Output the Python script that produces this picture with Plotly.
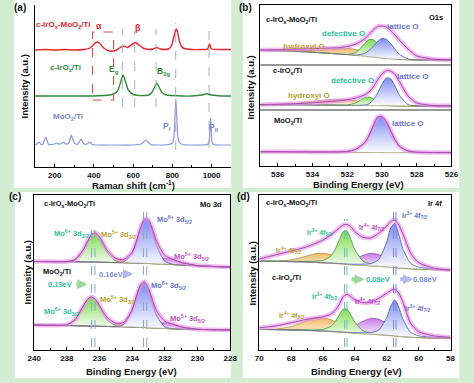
import plotly.graph_objects as go

W, H = 474, 383
FONT = "Liberation Sans, Arial, Helvetica, sans-serif"

# ---------------- (a) Raman spectra ----------------
raman_red_x = [100, 150, 200, 250, 300, 350, 380, 400, 415, 430, 450, 480, 510, 530, 550, 570, 590, 610, 630, 650,
               680, 700, 720, 740, 760, 780, 795, 805, 815, 820, 825, 835, 845, 860, 900, 950, 980, 985, 990, 995,
               1000, 1050, 1100]
raman_red_y = [117, 117.5, 117, 117.5, 117, 117.5, 119, 123, 125, 123.5, 119, 116, 116.5, 119, 121, 119.5, 122, 124.5,
               122, 119, 117.5, 118, 119.5, 118, 117.5, 118, 121, 128, 136, 138, 136, 127, 121, 118.5, 117.5, 117.5,
               118, 121, 123, 120, 118, 117.5, 117.5]
raman_green_x = [100, 200, 300, 400, 450, 480, 500, 520, 535, 548, 560, 575, 600, 630, 660, 680, 695, 710, 720, 730,
                 745, 770, 800, 850, 900, 950, 975, 1000, 1050, 1100]
raman_green_y = [71, 71, 71, 71, 71.5, 72, 73, 76, 84, 92, 86, 77, 72.5, 71.5, 71.5, 72, 74.5, 80, 83.7, 81,
                 75, 72, 71.5, 71, 71, 72, 73.3, 72, 71, 71]
raman_blue_x = [100, 110, 120, 130, 140, 150, 155, 160, 170, 185, 200, 210, 220, 235, 245, 255, 270, 280, 285, 290,
                300, 315, 325, 335, 345, 360, 370, 378, 390, 420, 500, 600, 640, 655, 665, 675, 690, 740, 780, 800,
                808, 813, 818, 823, 828, 835, 850, 900, 950, 980, 988, 992, 995, 998, 1002, 1010, 1050, 1100]
raman_blue_y = [22, 23, 25, 22.5, 23, 28, 30, 27, 22.5, 22.5, 23, 24, 23, 23.5, 25, 23, 23.5, 29, 32, 29,
                24, 22.5, 25, 28, 24, 22.5, 24, 25, 22.5, 22, 22, 22, 23, 25.5, 27, 25, 22.5, 22, 22.5, 24,
                30, 48, 68.7, 48, 30, 25, 22.5, 22, 22, 22.5, 26, 40, 48.7, 40, 25, 22.5, 22, 22]
raman_guides_x = [545, 608, 717, 817, 987]
raman_guides_y0 = [60, 60, 60, 17, 19]
raman_guides_y1 = [138, 136, 138, 144, 144]
alpha_box = [393, 500, 67, 135]

# ---------------- (b) O1s ----------------
b_x = [537, 536, 535, 534, 533.5, 533, 532.5, 532, 531.5, 531, 530.75, 530.5, 530.25, 530, 529.75, 529.5,
       529.25, 529, 528.5, 528, 527, 526]
b1_base = [115.5, 115.2, 114.6, 113.8, 113.2, 112.6, 112.0, 111.4, 110.6, 109.8, 109.3, 108.8, 108.3, 107.8, 107.4,
           107.0, 106.7, 106.5, 106.2, 106.1, 106.0, 106.0]
b1_env = [116, 116.3, 116.8, 117.3, 117.7, 118, 118.3, 119.5, 122, 127, 131.5, 136, 139.5, 140, 139, 135.5, 131,
          126, 117, 110, 106.8, 106.2]
b1_hydroxyl = [115.5, 115.4, 115.4, 115.6, 116.1, 116.8, 117.3, 117.4, 116.6, 114.8, 113.6, 112.4, 111.3, 110.2,
               109.3, 108.5, 107.8, 107.3, 106.6, 106.2, 106.0, 106.0]
b1_defective = [115.5, 115.2, 114.6, 113.8, 113.2, 112.6, 112.0, 111.6, 113.5, 122.2, 126.4, 126.4, 121.9, 115.7,
                110.9, 108.2, 107.0, 106.5, 106.2, 106.1, 106.0, 106.0]
b1_lattice = [115.5, 115.2, 114.6, 113.8, 113.2, 112.6, 112.0, 111.4, 110.9, 112.5, 115.4, 119.8, 124.6, 127.5,
              126.7, 122.4, 116.7, 111.7, 107.0, 106.15, 106.0, 106.0]
b2_base = [61.2, 61.2, 61.1, 61.0, 61.0, 60.9, 60.8, 60.7, 60.6, 60.5, 60.4, 60.4, 60.3, 60.3, 60.2, 60.1, 60.1,
           60.0, 60.0, 60.0, 60.0, 60.0]
b2_env = [61.5, 61.8, 62.3, 63.2, 63.8, 64.5, 65.2, 66.2, 68.0, 71.0, 74.0, 79.0, 86.0, 92.0, 95.3, 95.0, 91.5,
          84.5, 70.0, 63.0, 60.4, 60.2]
b2_hydroxyl = [61.2, 61.5, 62.4, 64.3, 65.4, 66.3, 66.7, 66.3, 65.2, 63.8, 63.1, 62.4, 61.8, 61.3, 60.9, 60.6,
               60.4, 60.2, 60.1, 60.0, 60.0, 60.0]
b2_defective = [61.2, 61.2, 61.1, 61.0, 61.0, 60.9, 60.8, 60.95, 63.2, 68.3, 68.9, 67.3, 64.4, 62.1, 60.8, 60.2,
                60.1, 60.0, 60.0, 60.0, 60.0, 60.0]
b2_lattice = [61.2, 61.2, 61.1, 61.0, 61.0, 60.9, 60.8, 60.7, 60.6, 61.0, 62.2, 65.9, 72.9, 81.9, 88.0, 87.2,
              79.9, 70.9, 61.4, 60.05, 60.0, 60.0]
b3_base = [14.0, 14.0, 13.9, 13.8, 13.8, 13.7, 13.7, 13.6, 13.6, 13.5, 13.5, 13.4, 13.4, 13.4, 13.4, 13.3, 13.3,
           13.3, 13.3, 13.3, 13.3, 13.3]
b3_lattice = [14.0, 14.0, 13.9, 13.8, 13.8, 13.8, 13.9, 14.3, 16.5, 23.0, 30.0, 40.0, 48.5, 49.0, 44.0, 35.0,
              26.0, 19.5, 14.8, 13.6, 13.3, 13.3]
b3_env = [14.3, 14.3, 14.2, 14.1, 14.1, 14.1, 14.2, 14.6, 16.8, 23.3, 30.5, 40.5, 49.0, 49.5, 44.5, 35.5, 26.5,
          20.0, 15.2, 13.9, 13.6, 13.5]
b_separators = [101, 56]

# ---------------- (c) Mo 3d ----------------
c_x = [240, 239, 238, 237.5, 237, 236.75, 236.5, 236.25, 236, 235.75, 235.5, 235, 234.5, 234, 233.75, 233.5,
       233.25, 233, 232.75, 232.5, 232, 231.5, 231, 230, 229, 228]
c1_base = [88.5, 88.4, 88.3, 88.2, 88.1, 88.0, 88.0, 87.9, 87.8, 87.7, 87.6, 87.4, 87.2, 87.0, 86.9, 86.8, 86.6,
           86.5, 86.3, 86.1, 85.8, 85.4, 85.0, 84.2, 83.5, 83.0]
c1_mo6_32 = [88.5, 88.4, 88.5, 90.4, 100.1, 108.0, 114.7, 116.5, 112.2, 104.5, 96.8, 89.0, 87.3, 87.0, 86.9, 86.8,
             86.6, 86.5, 86.3, 86.1, 85.8, 85.4, 85.0, 84.2, 83.5, 83.0]
c1_mo5_32 = [88.5, 88.4, 88.3, 88.2, 88.2, 88.2, 88.4, 88.6, 88.9, 89.3, 89.8, 90.1, 89.4, 88.1, 87.6, 87.2, 86.8,
             86.6, 86.3, 86.1, 85.8, 85.4, 85.0, 84.2, 83.5, 83.0]
c1_mo6_52 = [88.5, 88.4, 88.3, 88.2, 88.1, 88.0, 88.0, 87.9, 87.8, 87.7, 87.6, 87.4, 88.2, 96.8, 107.7, 120.9,
             129.7, 128.5, 117.8, 104.4, 88.6, 85.6, 85.0, 84.2, 83.5, 83.0]
c1_mo5_52 = [88.5, 88.4, 88.3, 88.2, 88.1, 88.0, 88.0, 87.9, 87.8, 87.7, 87.6, 87.4, 87.2, 87.1, 87.1, 87.2, 87.5,
             88.2, 89.2, 90.2, 91.7, 90.5, 87.6, 84.4, 83.5, 83.0]
c1_env = [88.5, 88.4, 88.5, 90.4, 100.2, 108.2, 115.1, 117.2, 113.3, 106.1, 99.0, 91.5, 90.5, 97.9, 108.6, 121.7,
          130.8, 130.2, 120.7, 108.5, 94.5, 90.7, 87.6, 84.4, 83.5, 83.0]
c2_base = [25.0, 24.7, 24.4, 24.3, 24.1, 24.0, 23.9, 23.8, 23.7, 23.6, 23.5, 23.3, 23.1, 22.9, 22.8, 22.6, 22.4,
           22.2, 22.0, 21.8, 21.5, 21.2, 21.0, 20.6, 20.3, 20.0]
c2_mo6_32 = [25.0, 24.7, 25.3, 30.5, 43.7, 50.1, 52.7, 49.9, 43.3, 35.7, 29.7, 24.2, 23.2, 22.9, 22.8, 22.6, 22.4,
             22.2, 22.0, 21.8, 21.5, 21.2, 21.0, 20.6, 20.3, 20.0]
c2_mo5_32 = [25.0, 24.7, 24.4, 24.3, 24.25, 24.3, 24.4, 24.7, 25.0, 25.4, 25.7, 25.8, 25.0, 23.9, 23.4, 22.9, 22.55,
             22.3, 22.0, 21.8, 21.5, 21.2, 21.0, 20.6, 20.3, 20.0]
c2_mo6_52 = [25.0, 24.7, 24.4, 24.3, 24.1, 24.0, 23.9, 23.8, 23.7, 23.6, 23.5, 23.3, 25.6, 39.7, 52.7, 63.9, 67.0,
             59.6, 46.5, 34.3, 23.0, 21.3, 21.0, 20.6, 20.3, 20.0]
c2_mo5_52 = [25.0, 24.7, 24.4, 24.3, 24.1, 24.0, 23.9, 23.8, 23.7, 23.6, 23.5, 23.3, 23.1, 23.0, 23.1, 23.2, 23.6,
             24.3, 25.2, 26.3, 27.3, 25.7, 23.1, 20.7, 20.3, 20.0]
c2_env = [25.0, 24.7, 25.3, 30.5, 43.9, 50.4, 53.2, 50.8, 44.6, 37.5, 31.9, 26.7, 27.6, 40.8, 53.6, 64.8, 68.4, 61.7,
          49.7, 38.8, 28.8, 25.8, 23.1, 20.7, 20.3, 20.0]
c_guides_x = [236.48, 236.28, 233.31, 233.11]
c_guides_y1 = [128, 128, 139, 139]

# ---------------- (d) Ir 4f ----------------
d_x = [70, 69, 68, 67.5, 67, 66.5, 66, 65.5, 65.25, 65, 64.75, 64.5, 64.25, 64, 63.5, 63, 62.5, 62, 61.75, 61.5,
       61.25, 61, 60.5, 60, 59, 58]
d1_base = [88.8, 88.6, 88.3, 88.1, 87.8, 87.5, 87.1, 86.7, 86.4, 86.1, 85.8, 85.4, 85.1, 84.8, 84.4, 84.0, 83.6,
           83.1, 82.8, 82.4, 82.0, 81.7, 81.2, 80.8, 80.3, 80.0]
d1_ir4_52 = [88.8, 88.8, 90.1, 91.9, 94.1, 96.2, 96.7, 95.4, 94.0, 92.4, 90.8, 89.2, 87.8, 86.6, 85.1, 84.2, 83.6,
             83.1, 82.8, 82.4, 82.0, 81.7, 81.2, 80.8, 80.3, 80.0]
d1_ir3_52 = [89.0, 88.9, 88.7, 88.7, 88.7, 88.8, 89.6, 94.1, 100.2, 109.4, 118.2, 118.9, 110.4, 100.3, 89.0, 85.9,
             84.7, 83.9, 83.5, 83.0, 82.5, 82.15, 81.6, 81.1, 80.5, 80.15]
d1_ir4_72 = [88.8, 88.6, 88.3, 88.1, 87.8, 87.5, 87.1, 86.9, 86.8, 86.95, 87.3, 88.0, 89.3, 90.9, 94.6, 96.7, 95.2,
             90.9, 88.5, 86.2, 84.4, 83.1, 81.6, 80.9, 80.3, 80.0]
d1_ir3_72 = [88.9, 88.75, 88.45, 88.3, 88.0, 87.75, 87.4, 87.05, 86.8, 86.55, 86.3, 86.0, 85.8, 85.7, 85.8, 86.4,
             90.4, 108.4, 122.2, 126.8, 116.0, 101.7, 86.5, 82.9, 81.1, 80.4]
d1_env = [91.0, 95.0, 99.0, 101.0, 103.3, 106.5, 110.0, 115.0, 118.5, 121.7, 125.0, 125.5, 123.3, 118.3, 112.7,
          112.0, 116.7, 124.0, 128.5, 130.0, 125.0, 116.7, 96.7, 87.3, 81.7, 80.0]
d2_base = [20.5, 20.3, 20.0, 19.8, 19.5, 19.2, 18.8, 18.4, 18.1, 17.8, 17.5, 17.2, 16.9, 16.6, 16.1, 15.7, 15.2,
           14.7, 14.4, 14.0, 13.6, 13.3, 12.8, 12.4, 12.0, 11.7]
d2_ir4_52 = [20.5, 20.9, 23.4, 26.2, 29.4, 31.8, 32.2, 30.1, 28.3, 26.3, 24.2, 22.3, 20.6, 19.1, 17.1, 16.05, 15.3,
             14.7, 14.4, 14.0, 13.6, 13.3, 12.8, 12.4, 12.0, 11.7]
d2_ir3_52 = [20.6, 20.5, 20.3, 20.2, 20.1, 20.2, 20.6, 23.7, 27.9, 34.4, 40.6, 41.1, 34.9, 27.6, 19.3, 17.1, 16.0,
             15.2, 14.9, 14.4, 14.0, 13.6, 13.05, 12.6, 12.15, 11.8]
d2_ir4_72 = [20.5, 20.3, 20.0, 19.8, 19.5, 19.2, 18.9, 18.8, 18.9, 19.2, 19.9, 21.0, 22.6, 24.5, 28.8, 31.6, 30.7,
             26.5, 23.7, 21.0, 18.5, 16.5, 14.0, 12.7, 12.0, 11.7]
d2_ir3_72 = [20.6, 20.4, 20.15, 19.95, 19.65, 19.4, 19.0, 18.7, 18.45, 18.2, 17.95, 17.7, 17.5, 17.3, 17.2, 17.5,
             20.0, 32.7, 43.9, 50.0, 43.1, 31.3, 17.6, 14.2, 12.7, 12.1]
d2_env = [22.3, 24.0, 27.3, 29.0, 30.7, 32.0, 33.3, 36.0, 39.5, 45.0, 53.0, 55.8, 53.3, 50.0, 47.3, 47.7, 51.7,
          56.7, 59.5, 60.7, 57.0, 48.3, 26.7, 18.3, 14.0, 12.7]
d_guides_x = [64.65, 64.5, 61.58, 61.42]
d_guides_y1 = [131, 131, 139, 139]

# ---------------- colours ----------------
C_YEL, E_YEL = "#f0b865", "#b0903a"
C_GRN, E_GRN = "#7ddc50", "#3d9a3d"
C_BLU, E_BLU = "#7d8cf0", "#4a55a8"
C_PUR, E_PUR = "#c67ae6", "#9a4cb0"
T_TEAL, T_OLIVE, T_BLUE, T_MAG = "#2fbf98", "#bca030", "#6a74cc", "#c04ec4"


def px(x):
    return x / W


def py(y):
    return 1 - y / H


fig = go.Figure()


def add_line(x, y, color, width, xa, ya, smooth=0.6):
    fig.add_trace(go.Scatter(x=x, y=y, mode="lines",
                             line=dict(color=color, width=width, shape="spline", smoothing=smooth),
                             xaxis=xa, yaxis=ya, showlegend=False, hoverinfo="skip"))


def add_component(x, base, y, fill, edge, xa, ya):
    fig.add_trace(go.Scatter(x=x, y=base, mode="lines",
                             line=dict(width=0, shape="spline", smoothing=0.6),
                             xaxis=xa, yaxis=ya, showlegend=False, hoverinfo="skip"))
    fig.add_trace(go.Scatter(x=x, y=y, mode="lines",
                             line=dict(color=edge, width=0.8, shape="spline", smoothing=0.6),
                             fill="tonexty",
                             fillgradient=dict(type="vertical",
                                               colorscale=[[0, "rgba(255,255,255,0.95)"], [1, fill]]),
                             xaxis=xa, yaxis=ya, showlegend=False, hoverinfo="skip"))


def add_envelope(x, y, xa, ya):
    add_line(x, y, "rgba(236,140,236,0.6)", 4.5, xa, ya)
    add_line(x, y, "#a04aa8", 1.0, xa, ya)


# ---- (a)
add_line(raman_red_x, raman_red_y, "#e8242c", 1.4, "x", "y", 0.5)
add_line(raman_green_x, raman_green_y, "#2e8b3a", 1.4, "x", "y", 0.5)
add_line(raman_blue_x, raman_blue_y, "#8e95dc", 1.2, "x", "y", 0.5)

# ---- (b)
for base, comps, env in [
    (b1_base, [(b1_hydroxyl, C_YEL, E_YEL), (b1_defective, C_GRN, E_GRN), (b1_lattice, C_BLU, E_BLU)], b1_env),
    (b2_base, [(b2_hydroxyl, C_YEL, E_YEL), (b2_defective, C_GRN, E_GRN), (b2_lattice, C_BLU, E_BLU)], b2_env),
    (b3_base, [(b3_lattice, C_BLU, E_BLU)], b3_env),
]:
    for comp, fc, ec in comps:
        add_component(b_x, base, comp, fc, ec, "x2", "y2")
    add_line(b_x, base, "#8c8a5a", 0.7, "x2", "y2")
    add_envelope(b_x, env, "x2", "y2")

# ---- (c)
for base, comps, env in [
    (c1_base, [(c1_mo5_32, C_YEL, E_YEL), (c1_mo6_32, C_GRN, E_GRN), (c1_mo5_52, C_PUR, E_PUR),
               (c1_mo6_52, C_BLU, E_BLU)], c1_env),
    (c2_base, [(c2_mo5_32, C_YEL, E_YEL), (c2_mo6_32, C_GRN, E_GRN), (c2_mo5_52, C_PUR, E_PUR),
               (c2_mo6_52, C_BLU, E_BLU)], c2_env),
]:
    for comp, fc, ec in comps:
        add_component(c_x, base, comp, fc, ec, "x3", "y3")
    add_line(c_x, base, "#8c8a5a", 0.7, "x3", "y3")
    add_envelope(c_x, env, "x3", "y3")

# ---- (d)
for base, comps, env in [
    (d1_base, [(d1_ir4_52, C_YEL, E_YEL), (d1_ir4_72, C_PUR, E_PUR), (d1_ir3_52, C_GRN, E_GRN),
               (d1_ir3_72, C_BLU, E_BLU)], d1_env),
    (d2_base, [(d2_ir4_52, C_YEL, E_YEL), (d2_ir4_72, C_PUR, E_PUR), (d2_ir3_52, C_GRN, E_GRN),
               (d2_ir3_72, C_BLU, E_BLU)], d2_env),
]:
    for comp, fc, ec in comps:
        add_component(d_x, base, comp, fc, ec, "x4", "y4")
    add_line(d_x, base, "#8c8a5a", 0.7, "x4", "y4")
    add_envelope(d_x, env, "x4", "y4")


# ---------------- axes ----------------
def xcfg(x0, x1, y_anchor, rng, dtick, mdtick, tick0, mirror):
    return dict(domain=[px(x0), px(x1)], range=rng, anchor=y_anchor, showline=True, linecolor="black",
                linewidth=1, mirror=mirror, ticks="inside", ticklen=3, tickcolor="black", tickwidth=1,
                dtick=dtick, tick0=tick0,
                minor=dict(ticks="inside", ticklen=2, dtick=mdtick, tickcolor="black", tickwidth=1),
                showgrid=False, zeroline=False, fixedrange=True,
                tickfont=dict(family=FONT, size=8, color="#111", weight="bold"))


def ycfg(top, bottom, x_anchor, rng, mirror):
    return dict(domain=[py(bottom), py(top)], range=rng, anchor=x_anchor, showline=True, linecolor="black",
                linewidth=1, mirror=mirror, ticks="", showticklabels=False, showgrid=False, zeroline=False,
                fixedrange=True)


fig.update_layout(
    width=W, height=H, margin=dict(l=0, r=0, t=0, b=0),
    paper_bgcolor="#d3edd3", plot_bgcolor="white", showlegend=False,
    xaxis=xcfg(29, 231, "y", [100, 1100], 200, 100, 0, False),
    yaxis=ycfg(5, 167, "x", [0, 162], False),
    xaxis2=xcfg(261, 458, "y2", [537, 526], 2, 1, 526, True),
    yaxis2=ycfg(5, 166, "x2", [0, 161], True),
    xaxis3=xcfg(28, 230, "y3", [240, 228], 2, 1, 228, True),
    yaxis3=ycfg(195, 350, "x3", [0, 155], True),
    xaxis4=xcfg(260, 457, "y4", [70, 58], 2, 1, 58, True),
    yaxis4=ycfg(195, 350, "x4", [0, 155], True),
)

shapes = []
# white panel backgrounds
for x0, y0, x1, y1 in [(7, 0, 231, 188), (243, 0, 466, 188), (8, 192, 231, 378), (243, 192, 466, 378)]:
    shapes.append(dict(type="rect", xref="paper", yref="paper", x0=px(x0), x1=px(x1), y0=py(y1), y1=py(y0),
                       fillcolor="white", line=dict(width=0), layer="below"))
# Raman guides
for gx, g0, g1 in zip(raman_guides_x, raman_guides_y0, raman_guides_y1):
    shapes.append(dict(type="line", xref="x", yref="y", x0=gx, x1=gx, y0=g0, y1=g1,
                       line=dict(color="#aab2ba", width=1, dash="dash")))
shapes.append(dict(type="rect", xref="x", yref="y", x0=alpha_box[0], x1=alpha_box[1], y0=alpha_box[2],
                   y1=alpha_box[3], line=dict(color="#d0504a", width=1.1, dash="dash")))
# O1s separators
for s in b_separators:
    shapes.append(dict(type="line", xref="x2 domain", yref="y2", x0=0, x1=1, y0=s, y1=s,
                       line=dict(color="#333", width=1)))
# Mo 3d / Ir 4f guides
for gx, g1 in zip(c_guides_x, c_guides_y1):
    shapes.append(dict(type="line", xref="x3", yref="y3", x0=gx, x1=gx, y0=3, y1=g1,
                       line=dict(color="#8aa6c8", width=1, dash="dash")))
for i, (gx, g1) in enumerate(zip(d_guides_x, d_guides_y1)):
    shapes.append(dict(type="line", xref="x4", yref="y4", x0=gx, x1=gx, y0=3, y1=g1,
                       line=dict(color="#6cc0b4" if i < 2 else "#7a86d8", width=1, dash="dash")))
fig.update_layout(shapes=shapes)

ann = []


def A(x, y, text, color="#111", size=8, xref="paper", yref="paper", xanchor="center", angle=0):
    ann.append(dict(x=x, y=y, xref=xref, yref=yref, text=text, showarrow=False, xanchor=xanchor,
                    yanchor="middle", textangle=angle,
                    font=dict(family=FONT, size=size, color=color, weight="bold")))


# panel letters
A(px(13), py(8), "(a)", size=10)
A(px(246), py(8), "(b)", size=10)
A(px(8), py(196), "(c)", size=10)
A(px(244), py(196), "(d)", size=10)
# axis titles
A(px(130), py(184.5), "Raman shift (cm<sup>-1</sup>)", size=9.5)
A(px(362), py(184.5), "Binding Energy (eV)", size=9.5)
A(px(128), py(371.5), "Binding Energy (eV)", size=9.5)
A(px(360), py(371), "Binding Energy (eV)", size=9.5)
for xx, yy in [(18, 86), (250, 88), (21, 272), (252, 274)]:
    A(px(xx), py(yy), "Intensity (a.u.)", size=9.5, angle=-90)

# (a) labels
A(243, 142, "c-IrO<sub>x</sub>-MoO<sub>2</sub>/Ti", "#e0262e", 8, "x", "y")
A(427, 141, "α", "#e0262e", 9, "x", "y")
A(625, 139, "β", "#e0262e", 9, "x", "y")
A(253, 99, "c-IrO<sub>x</sub>/Ti", "#2e8b3a", 8, "x", "y")
A(500, 97, "E<sub>g</sub>", "#2e8b3a", 8.5, "x", "y")
A(753, 95, "B<sub>2g</sub>", "#2e8b3a", 8.5, "x", "y")
A(268, 50, "MoO<sub>2</sub>/Ti", "#7f86d2", 8, "x", "y")
A(773, 40, "P<sub>I</sub>", "#7f86d2", 8.5, "x", "y")
A(1011, 39, "P<sub>II</sub>", "#7f86d2", 8.5, "x", "y")

# (b) labels
A(536.8, 146, "c-IrO<sub>x</sub>-MoO<sub>2</sub>/Ti", "#111", 7.5, "x2", "y2", "left")
A(526.4, 148, "O1s", "#111", 7.5, "x2", "y2", "right")
A(532.2, 132.7, "defective O", T_TEAL, 8, "x2", "y2")
A(528.8, 139.3, "lattice O", T_BLUE, 8, "x2", "y2")
A(534.5, 119.3, "hydroxyl O", T_OLIVE, 8, "x2", "y2")
A(536.4, 95, "c-IrO<sub>x</sub>/Ti", "#111", 7.5, "x2", "y2", "left")
A(531.7, 85, "defective O", T_TEAL, 8, "x2", "y2")
A(528.2, 89.3, "lattice O", T_BLUE, 8, "x2", "y2")
A(534.2, 70, "hydroxyl O", T_OLIVE, 8, "x2", "y2")
A(536.3, 45.3, "MoO<sub>2</sub>/Ti", "#111", 7.5, "x2", "y2", "left")
A(528.5, 42, "lattice O", T_BLUE, 8, "x2", "y2")

# (c) labels
A(239.5, 146, "c-IrO<sub>x</sub>-MoO<sub>2</sub>/Ti", "#111", 7.5, "x3", "y3", "left")
A(228.4, 146, "Mo 3d", "#111", 7.5, "x3", "y3", "right")
A(237.7, 116.7, "Mo<sup>6+</sup> 3d<sub>3/2</sub>", T_TEAL, 7.5, "x3", "y3")
A(234.85, 115.7, "Mo<sup>5+</sup> 3d<sub>3/2</sub>", T_OLIVE, 7.5, "x3", "y3")
A(231.4, 130.7, "Mo<sup>6+</sup> 3d<sub>5/2</sub>", T_BLUE, 7.5, "x3", "y3")
A(230.4, 94, "Mo<sup>5+</sup> 3d<sub>5/2</sub>", T_MAG, 7.5, "x3", "y3")
A(239.6, 78.3, "MoO<sub>2</sub>/Ti", "#111", 7.5, "x3", "y3", "left")
A(238.4, 65.7, "0.19eV", T_TEAL, 7.5, "x3", "y3")
A(235.3, 76, "0.16eV", "#8890d8", 7.5, "x3", "y3")
A(238.3, 38.3, "Mo<sup>6+</sup> 3d<sub>3/2</sub>", T_TEAL, 7.5, "x3", "y3")
A(234.9, 50.7, "Mo<sup>5+</sup> 3d<sub>3/2</sub>", T_OLIVE, 7.5, "x3", "y3")
A(231.8, 65, "Mo<sup>6+</sup> 3d<sub>5/2</sub>", T_BLUE, 7.5, "x3", "y3")
A(230.6, 31.7, "Mo<sup>5+</sup> 3d<sub>5/2</sub>", T_MAG, 7.5, "x3", "y3")

# (d) labels
A(69.7, 146.7, "c-IrO<sub>x</sub>-MoO<sub>2</sub>/Ti", "#111", 7.5, "x4", "y4", "left")
A(58.4, 146.7, "Ir 4f", "#111", 7.5, "x4", "y4", "right")
A(66.2, 117.3, "Ir<sup>3+</sup> 4f<sub>5/2</sub>", T_TEAL, 7, "x4", "y4")
A(68.15, 100, "Ir<sup>4+</sup> 4f<sub>5/2</sub>", T_OLIVE, 7, "x4", "y4")
A(62.9, 122.3, "Ir<sup>4+</sup> 4f<sub>7/2</sub>", T_MAG, 7, "x4", "y4")
A(60.25, 135, "Ir<sup>3+</sup> 4f<sub>7/2</sub>", T_BLUE, 7, "x4", "y4")
A(69.3, 72.3, "c-IrO<sub>x</sub>/Ti", "#111", 7.5, "x4", "y4", "left")
A(62.55, 70.7, "0.08eV", T_TEAL, 7.5, "x4", "y4")
A(59.6, 70.7, "0.08eV", "#7a86d8", 7.5, "x4", "y4")
A(65.9, 54, "Ir<sup>3+</sup> 4f<sub>5/2</sub>", T_TEAL, 7, "x4", "y4")
A(67.95, 35, "Ir<sup>4+</sup> 4f<sub>5/2</sub>", T_OLIVE, 7, "x4", "y4")
A(63.2, 48.3, "Ir<sup>4+</sup> 4f<sub>7/2</sub>", T_MAG, 7, "x4", "y4")
A(60.05, 41.7, "Ir<sup>3+</sup> 4f<sub>7/2</sub>", T_BLUE, 7, "x4", "y4")

# shift arrows
for (xa, ya, x0, x1, yy, col) in [("x3", "y3", 237.5, 236.75, 65.7, "#9ad89a"),
                                  ("x3", "y3", 234.65, 233.95, 76, "#b4b8ee"),
                                  ("x4", "y4", 64.3, 63.4, 70.7, "#9ad89a"),
                                  ("x4", "y4", 61.25, 60.35, 70.7, "#b4b8ee")]:
    ann.append(dict(x=x1, y=yy, ax=x0, ay=yy, xref=xa, yref=ya, axref=xa, ayref=ya, text="",
                    showarrow=True, arrowhead=2, arrowsize=0.5, arrowwidth=4, arrowcolor=col))

fig.update_layout(annotations=ann)
fig.write_html("out.html", config={"displayModeBar": False},
               post_script="document.body.style.margin='0';document.body.style.overflow='hidden';")
